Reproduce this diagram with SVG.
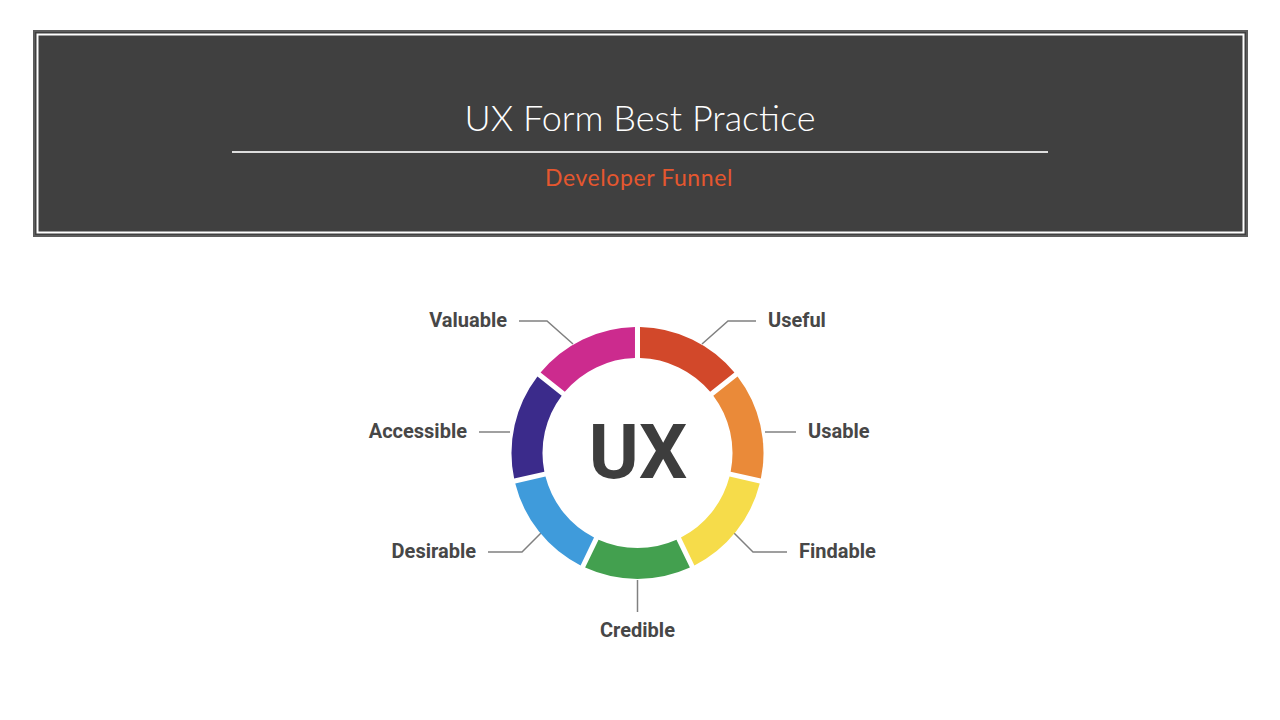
<svg xmlns="http://www.w3.org/2000/svg" xmlns:xlink="http://www.w3.org/1999/xlink" width="1280" height="720" viewBox="0 0 1280 720">
<style>
.lbl{font-family:Roboto,"Liberation Sans",sans-serif;font-weight:bold;font-size:20px;fill:#474747}
.lead{fill:none;stroke:#808080;stroke-width:1.5}
.title{font-family:Lato,"Open Sans","Liberation Sans",sans-serif;font-weight:300;font-size:36px;fill:#ffffff}
.sub{font-family:Lato,"Open Sans","Liberation Sans",sans-serif;font-size:23px;letter-spacing:0.6px;fill:#e5572f}
</style>
<defs>
<path id="seg" d="M 640.0 327.03 A 126 126 0 0 1 734.42 372.48 L 710.18 391.82 A 95 95 0 0 0 640.0 358.03 Z"/>
</defs>
<rect width="1280" height="720" fill="#ffffff"/>
<g id="header">
<rect x="34" y="31" width="1213" height="205" fill="#404040" stroke="#5c5c5c" stroke-width="2"/>
<rect x="37.5" y="34.5" width="1206" height="198" fill="none" stroke="#ffffff" stroke-width="2"/>
<text class="title" x="640" y="131" text-anchor="middle">UX Form Best Practice</text>
<line x1="232" y1="152" x2="1048" y2="152" stroke="#dddddd" stroke-width="2"/>
<text class="sub" x="639" y="186" text-anchor="middle">Developer Funnel</text>
</g>
<g id="center">
<text x="638" y="478" text-anchor="middle" font-family="Roboto,'Liberation Sans',sans-serif" font-weight="bold" font-size="76" fill="#3d3d3d">UX</text>
</g>
<g id="connectors">
<polyline class="lead" points="702,344 728,321 756,321"/>
<line class="lead" x1="765" y1="432" x2="796" y2="432"/>
<polyline class="lead" points="734,533 753,552 787,552"/>
<line class="lead" x1="637.5" y1="580" x2="637.5" y2="612"/>
<polyline class="lead" points="541,533 522,552 488,552"/>
<line class="lead" x1="510" y1="432" x2="479" y2="432"/>
<polyline class="lead" points="573,344 547,321 519,321"/>
</g>
<g id="useful">
<use xlink:href="#seg" fill="#d2482a"/>
<text class="lbl" x="768" y="327">Useful</text>
</g>
<g id="usable">
<use xlink:href="#seg" fill="#ea8a39" transform="rotate(51.4286 637.5 453)"/>
<text class="lbl" x="808" y="438">Usable</text>
</g>
<g id="findable">
<use xlink:href="#seg" fill="#f6dc4a" transform="rotate(102.857 637.5 453)"/>
<text class="lbl" x="799" y="558">Findable</text>
</g>
<g id="credible">
<use xlink:href="#seg" fill="#43a04f" transform="rotate(154.286 637.5 453)"/>
<text class="lbl" x="637.5" y="637" text-anchor="middle">Credible</text>
</g>
<g id="desirable">
<use xlink:href="#seg" fill="#3f9bdb" transform="rotate(205.714 637.5 453)"/>
<text class="lbl" x="476" y="558" text-anchor="end">Desirable</text>
</g>
<g id="accessible">
<use xlink:href="#seg" fill="#3b2b8b" transform="rotate(257.143 637.5 453)"/>
<text class="lbl" x="467" y="438" text-anchor="end">Accessible</text>
</g>
<g id="valuable">
<use xlink:href="#seg" fill="#cc2b8e" transform="rotate(308.571 637.5 453)"/>
<text class="lbl" x="507" y="327" text-anchor="end">Valuable</text>
</g>
</svg>
